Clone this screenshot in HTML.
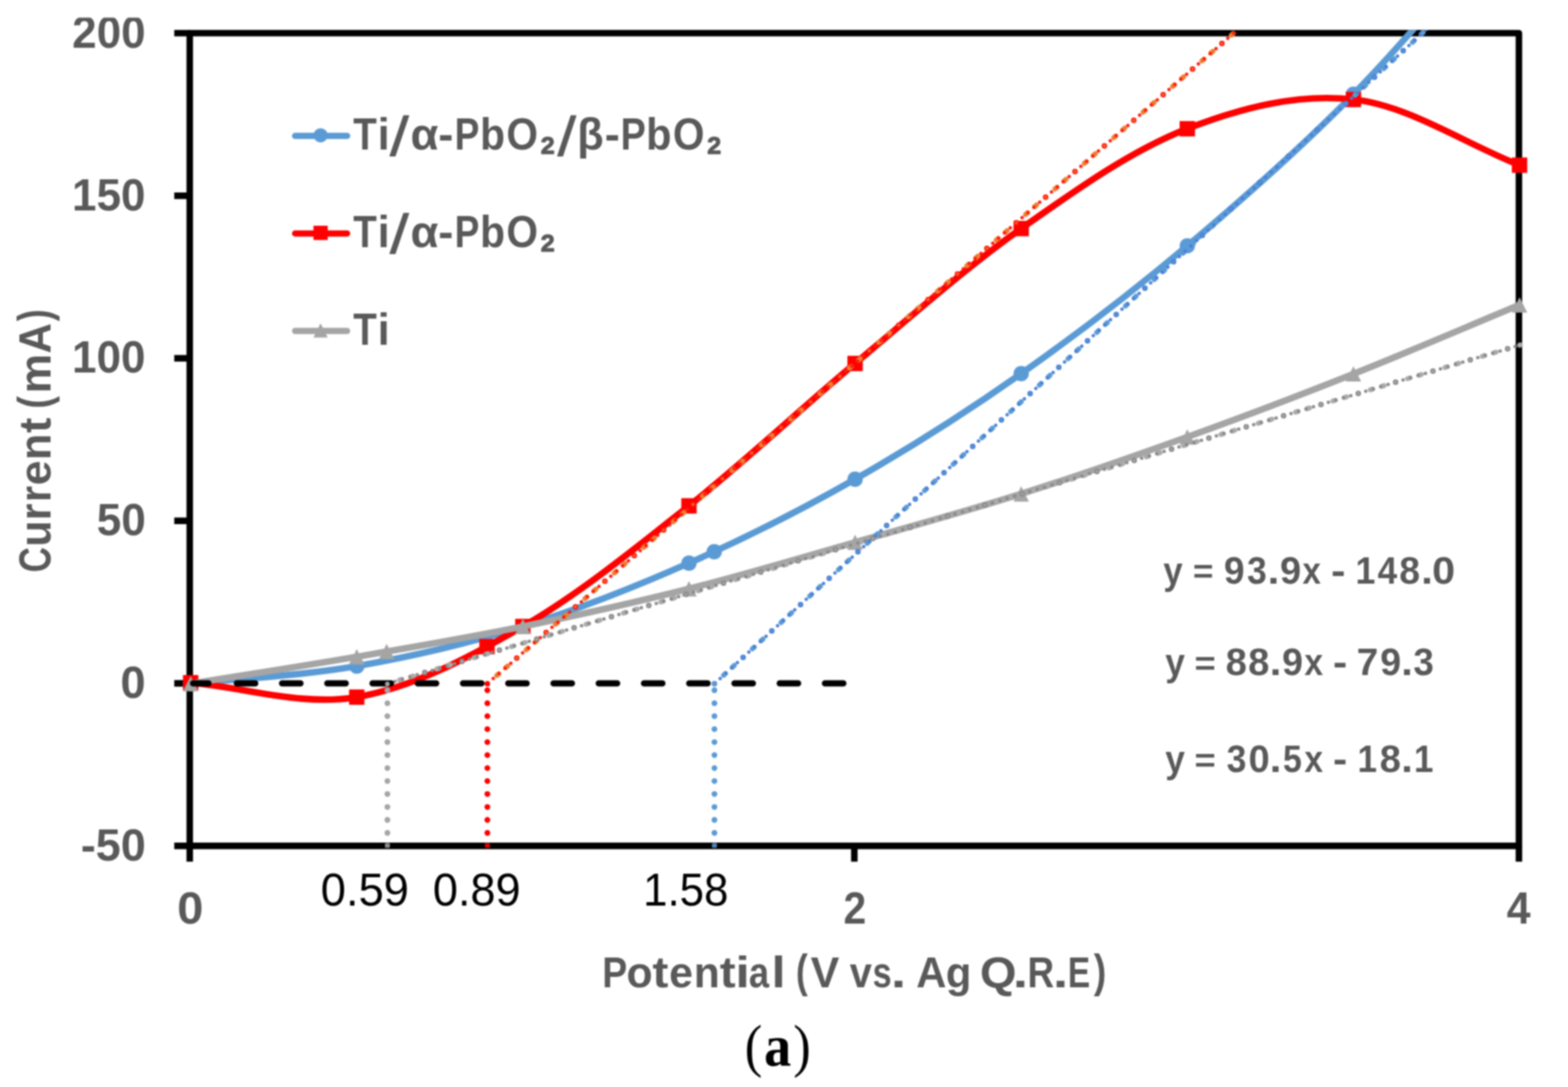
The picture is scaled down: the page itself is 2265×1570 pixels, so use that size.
<!DOCTYPE html>
<html lang="en"><head><meta charset="utf-8"><title>Polarization curves</title>
<style>html,body{margin:0;padding:0;background:#fff}body{width:2265px;height:1570px}svg{display:block;filter:blur(1px)}text{white-space:pre;font-kerning:none}</style></head>
<body>
<svg width="2265" height="1570" viewBox="0 0 2265 1570">
<defs><clipPath id="plot"><rect x="234.1" y="43.2" width="2000.0" height="1183.3"/></clipPath><clipPath id="topclip"><rect x="0" y="25.6" width="2265" height="1570"/></clipPath></defs>
<g>
<rect width="2265" height="1570" fill="#fff"/>
<g stroke="#000" stroke-width="9.4" fill="none" stroke-linejoin="round">
<rect x="274.1" y="47.9" width="1920.0" height="1173.8999999999999"/>
<path d="M251.7 47.90H274.1M251.7 282.68H274.1M251.7 517.46H274.1M251.7 752.24H274.1M251.7 987.02H274.1M251.7 1221.80H274.1M274.10 1221.8V1244.4M1234.10 1221.8V1244.4M2194.10 1221.8V1244.4"/>
</g>
<g clip-path="url(#plot)">
<path d="M275.40 987.50C355.38 979.05 435.37 975.92 515.35 962.14C595.33 948.37 675.32 929.67 755.30 904.86C835.28 880.05 915.27 848.75 995.25 813.29C1075.23 777.84 1155.22 737.77 1235.20 692.15C1315.18 646.52 1395.17 595.73 1475.15 539.54C1555.13 483.35 1635.12 422.23 1715.10 355.00C1795.08 287.78 1875.07 217.81 1955.05 136.19C2035.03 54.56 2115.02 -44.44 2195.00 -134.75" fill="none" stroke="#5B9BD5" stroke-width="9.4" stroke-linecap="round" stroke-linejoin="round"/>
<circle cx="275.40" cy="987.50" r="11.10" fill="#5B9BD5"/>
<circle cx="515.35" cy="962.14" r="11.10" fill="#5B9BD5"/>
<circle cx="755.30" cy="904.86" r="11.10" fill="#5B9BD5"/>
<circle cx="995.25" cy="813.29" r="11.10" fill="#5B9BD5"/>
<circle cx="1235.20" cy="692.15" r="11.10" fill="#5B9BD5"/>
<circle cx="1475.15" cy="539.54" r="11.10" fill="#5B9BD5"/>
<circle cx="1715.10" cy="355.00" r="11.10" fill="#5B9BD5"/>
<circle cx="1955.05" cy="136.19" r="11.10" fill="#5B9BD5"/>
<circle cx="1031.72" cy="796.86" r="11.10" fill="#5B9BD5"/>
</g>
<g clip-path="url(#plot)">
<path d="M275.40 986.09C355.38 993.03 435.37 1020.43 515.35 1006.89C595.33 993.35 675.32 950.90 755.30 904.86C835.28 858.82 915.27 793.96 995.25 730.65C1075.23 667.34 1155.22 591.74 1235.20 524.98C1315.18 458.23 1395.17 386.62 1475.15 330.12C1555.13 273.61 1635.12 217.03 1715.10 185.96C1795.08 154.89 1875.07 134.94 1955.05 143.70C2035.03 152.47 2115.02 206.93 2195.00 238.55" fill="none" stroke="#FF0000" stroke-width="9.4" stroke-linecap="round" stroke-linejoin="round"/>
<rect x="264.30" y="974.99" width="22.2" height="22.2" fill="#FF0000"/>
<rect x="504.25" y="995.79" width="22.2" height="22.2" fill="#FF0000"/>
<rect x="744.20" y="893.76" width="22.2" height="22.2" fill="#FF0000"/>
<rect x="984.15" y="719.55" width="22.2" height="22.2" fill="#FF0000"/>
<rect x="1224.10" y="513.88" width="22.2" height="22.2" fill="#FF0000"/>
<rect x="1464.05" y="319.02" width="22.2" height="22.2" fill="#FF0000"/>
<rect x="1704.00" y="174.86" width="22.2" height="22.2" fill="#FF0000"/>
<rect x="1943.95" y="132.60" width="22.2" height="22.2" fill="#FF0000"/>
<rect x="2183.90" y="227.45" width="22.2" height="22.2" fill="#FF0000"/>
<rect x="692.37" y="922.87" width="22.2" height="22.2" fill="#FF0000"/>
</g>
<g clip-path="url(#plot)">
<path d="M275.40 987.50C355.38 974.51 435.37 962.30 515.35 948.53C595.33 934.75 675.32 921.21 755.30 904.86C835.28 888.50 915.27 870.66 995.25 850.39C1075.23 830.12 1155.22 806.09 1235.20 783.24C1315.18 760.39 1395.17 738.63 1475.15 713.28C1555.13 687.92 1635.12 659.98 1715.10 631.10C1795.08 602.23 1875.07 571.78 1955.05 540.01C2035.03 508.24 2115.02 473.64 2195.00 440.46" fill="none" stroke="#A5A5A5" stroke-width="9.4" stroke-linecap="round" stroke-linejoin="round"/>
<path d="M275.40 976.40L286.50 998.60H264.30Z" fill="#A5A5A5"/>
<path d="M515.35 937.43L526.45 959.63H504.25Z" fill="#A5A5A5"/>
<path d="M755.30 893.76L766.40 915.96H744.20Z" fill="#A5A5A5"/>
<path d="M995.25 839.29L1006.35 861.49H984.15Z" fill="#A5A5A5"/>
<path d="M1235.20 772.14L1246.30 794.34H1224.10Z" fill="#A5A5A5"/>
<path d="M1475.15 702.18L1486.25 724.38H1464.05Z" fill="#A5A5A5"/>
<path d="M1715.10 620.00L1726.20 642.20H1704.00Z" fill="#A5A5A5"/>
<path d="M1955.05 528.91L1966.15 551.11H1943.95Z" fill="#A5A5A5"/>
<path d="M2195.00 429.36L2206.10 451.56H2183.90Z" fill="#A5A5A5"/>
<path d="M558.54 929.91L569.64 952.11H547.44Z" fill="#A5A5A5"/>
</g>
<g clip-path="url(#plot)" fill="none" stroke-linecap="round">
<path d="M1032.00 987.50L2061.17 41.90" stroke="#5B9BD5" stroke-width="7.2" stroke-dasharray="3.6 13.6 3.6 35.5" stroke-dashoffset="38.20"/>
<path d="M1032.00 987.50L2061.17 41.90" stroke="#4A7FD6" stroke-width="5.0" stroke-dasharray="0 11.26"/>
<path d="M1032.00 987.50L2061.17 41.90" stroke="#4A7FD6" stroke-width="8.0" stroke-dasharray="0 56.3"/>
<path d="M1032.00 987.50L2061.17 41.90" stroke="#5B9BD5" stroke-width="3.6" stroke-dasharray="0 56.3"/>
</g>
<g clip-path="url(#plot)" fill="none" stroke-linecap="round">
<path d="M704.00 987.50L1789.03 41.90" stroke="#ED7D31" stroke-width="7.2" stroke-dasharray="3.6 13.6 3.6 35.5" stroke-dashoffset="38.20"/>
<path d="M704.00 987.50L1789.03 41.90" stroke="#FF1A0A" stroke-width="5.0" stroke-dasharray="0 11.26"/>
<path d="M704.00 987.50L1789.03 41.90" stroke="#FF1A0A" stroke-width="8.0" stroke-dasharray="0 56.3"/>
<path d="M704.00 987.50L1789.03 41.90" stroke="#ED7D31" stroke-width="3.6" stroke-dasharray="0 56.3"/>
</g>
<g clip-path="url(#plot)" fill="none" stroke-linecap="round">
<path d="M559.60 987.50L2196.10 498.19" stroke="#ABABAB" stroke-width="7.2" stroke-dasharray="3.6 13.6 3.6 35.5" stroke-dashoffset="38.20"/>
<path d="M559.60 987.50L2196.10 498.19" stroke="#8A8A8A" stroke-width="5.0" stroke-dasharray="0 11.26"/>
<path d="M559.60 987.50L2196.10 498.19" stroke="#8A8A8A" stroke-width="8.0" stroke-dasharray="0 56.3"/>
<path d="M559.60 987.50L2196.10 498.19" stroke="#ABABAB" stroke-width="3.6" stroke-dasharray="0 56.3"/>
</g>
<path d="M279 987.0H301.1M342.2 987.0H1220" fill="none" stroke="#000" stroke-width="9.2" stroke-linecap="round" stroke-dasharray="26.4 38.95"/>
<path d="M559.60 1203.06V987.50" fill="none" stroke="#A5A5A5" stroke-width="8.4" stroke-linecap="round" stroke-dasharray="0 18.74"/>
<circle cx="559.60" cy="987.80" r="3.4" fill="#A5A5A5"/>
<rect x="556.00" y="1217.80" width="7.2" height="6.8" rx="1.5" fill="#A5A5A5" opacity="0.85"/>
<path d="M704.00 1203.06V987.50" fill="none" stroke="#FF0000" stroke-width="8.4" stroke-linecap="round" stroke-dasharray="0 18.74"/>
<circle cx="704.00" cy="987.80" r="3.4" fill="#FF0000"/>
<rect x="700.40" y="1217.80" width="7.2" height="6.8" rx="1.5" fill="#FF0000" opacity="0.85"/>
<path d="M1032.00 1203.06V987.50" fill="none" stroke="#5B9BD5" stroke-width="8.4" stroke-linecap="round" stroke-dasharray="0 18.74"/>
<circle cx="1032.00" cy="987.80" r="3.4" fill="#5B9BD5"/>
<rect x="1028.40" y="1217.80" width="7.2" height="6.8" rx="1.5" fill="#5B9BD5" opacity="0.85"/>
<path d="M426.3 196.30H501.4" stroke="#5B9BD5" stroke-width="9.0" stroke-linecap="round" fill="none"/>
<circle cx="463.10" cy="195.50" r="10.30" fill="#5B9BD5"/>
<path d="M426.3 337.15H501.4" stroke="#FF0000" stroke-width="9.0" stroke-linecap="round" fill="none"/>
<rect x="452.80" y="326.05" width="20.6" height="20.6" fill="#FF0000"/>
<path d="M426.3 478.00H501.4" stroke="#A5A5A5" stroke-width="9.0" stroke-linecap="round" fill="none"/>
<path d="M463.10 466.90L473.40 487.50H452.80Z" fill="#A5A5A5"/>
<text font-family='"Liberation Sans", sans-serif' font-weight="bold" font-size="64.6" fill="#595959"><tspan x="510.17" y="216.00" textLength="34.02" lengthAdjust="spacingAndGlyphs">T</tspan><tspan x="545.42" y="216.00" textLength="17.41" lengthAdjust="spacingAndGlyphs">i</tspan><tspan x="563.10" y="225.00" textLength="27.70" lengthAdjust="spacingAndGlyphs" font-size="80.5" font-weight="normal" stroke="#595959" stroke-width="0.8" stroke-linejoin="round">/</tspan><tspan x="592.94" y="216.00" textLength="40.34" lengthAdjust="spacingAndGlyphs">α</tspan><tspan x="633.13" y="216.00" textLength="21.90" lengthAdjust="spacingAndGlyphs">-</tspan><tspan x="656.82" y="216.00" textLength="35.71" lengthAdjust="spacingAndGlyphs">P</tspan><tspan x="693.61" y="216.00" textLength="36.00" lengthAdjust="spacingAndGlyphs">b</tspan><tspan x="731.59" y="216.00" textLength="45.67" lengthAdjust="spacingAndGlyphs">O</tspan><tspan x="779.41" y="220.20" textLength="23.11" lengthAdjust="spacingAndGlyphs" font-size="70" stroke="#595959" stroke-width="1.6" stroke-linejoin="round">₂</tspan><tspan x="805.30" y="225.00" textLength="27.00" lengthAdjust="spacingAndGlyphs" font-size="80.5" font-weight="normal" stroke="#595959" stroke-width="0.8" stroke-linejoin="round">/</tspan><tspan x="833.65" y="216.00" textLength="38.26" lengthAdjust="spacingAndGlyphs">β</tspan><tspan x="873.43" y="216.00" textLength="21.90" lengthAdjust="spacingAndGlyphs">-</tspan><tspan x="896.45" y="216.00" textLength="36.42" lengthAdjust="spacingAndGlyphs">P</tspan><tspan x="933.24" y="216.00" textLength="36.73" lengthAdjust="spacingAndGlyphs">b</tspan><tspan x="971.89" y="216.00" textLength="45.67" lengthAdjust="spacingAndGlyphs">O</tspan><tspan x="1019.91" y="220.20" textLength="23.11" lengthAdjust="spacingAndGlyphs" font-size="70" stroke="#595959" stroke-width="1.6" stroke-linejoin="round">₂</tspan></text>
<text font-family='"Liberation Sans", sans-serif' font-weight="bold" font-size="64.6" fill="#595959"><tspan x="510.17" y="356.70" textLength="34.02" lengthAdjust="spacingAndGlyphs">T</tspan><tspan x="545.42" y="356.70" textLength="17.41" lengthAdjust="spacingAndGlyphs">i</tspan><tspan x="563.10" y="365.70" textLength="27.70" lengthAdjust="spacingAndGlyphs" font-size="80.5" font-weight="normal" stroke="#595959" stroke-width="0.8" stroke-linejoin="round">/</tspan><tspan x="592.94" y="356.70" textLength="40.34" lengthAdjust="spacingAndGlyphs">α</tspan><tspan x="633.13" y="356.70" textLength="21.90" lengthAdjust="spacingAndGlyphs">-</tspan><tspan x="656.82" y="356.70" textLength="35.71" lengthAdjust="spacingAndGlyphs">P</tspan><tspan x="693.61" y="356.70" textLength="36.00" lengthAdjust="spacingAndGlyphs">b</tspan><tspan x="731.59" y="356.70" textLength="45.67" lengthAdjust="spacingAndGlyphs">O</tspan><tspan x="779.41" y="360.90" textLength="23.11" lengthAdjust="spacingAndGlyphs" font-size="70" stroke="#595959" stroke-width="1.6" stroke-linejoin="round">₂</tspan></text>
<text font-family='"Liberation Sans", sans-serif' font-weight="bold" font-size="64.6" fill="#595959"><tspan x="510.17" y="497.60" textLength="34.02" lengthAdjust="spacingAndGlyphs">T</tspan><tspan x="545.42" y="497.60" textLength="17.41" lengthAdjust="spacingAndGlyphs">i</tspan></text>
<text font-family='"Liberation Sans", sans-serif' font-weight="bold" font-size="55.5" fill="#595959"><tspan x="1680.41" y="842.70" textLength="27.86" lengthAdjust="spacingAndGlyphs">y</tspan><tspan> </tspan><tspan x="1723.20" y="842.20" textLength="29.58" lengthAdjust="spacingAndGlyphs" font-size="48">=</tspan><tspan> </tspan><tspan x="1767.94" y="842.70" textLength="29.85" lengthAdjust="spacingAndGlyphs">9</tspan><tspan x="1801.43" y="842.70" textLength="28.31" lengthAdjust="spacingAndGlyphs">3</tspan><tspan x="1831.12" y="842.70" textLength="17.13" lengthAdjust="spacingAndGlyphs">.</tspan><tspan x="1848.90" y="842.70" textLength="30.54" lengthAdjust="spacingAndGlyphs">9</tspan><tspan x="1881.47" y="842.70" textLength="26.47" lengthAdjust="spacingAndGlyphs">x</tspan><tspan> </tspan><tspan x="1922.65" y="842.70" textLength="20.85" lengthAdjust="spacingAndGlyphs">-</tspan><tspan> </tspan><tspan x="1957.94" y="842.70" textLength="28.80" lengthAdjust="spacingAndGlyphs">1</tspan><tspan x="1990.03" y="842.70" textLength="28.24" lengthAdjust="spacingAndGlyphs">4</tspan><tspan x="2021.29" y="842.70" textLength="29.97" lengthAdjust="spacingAndGlyphs">8</tspan><tspan x="2052.82" y="842.70" textLength="17.13" lengthAdjust="spacingAndGlyphs">.</tspan><tspan x="2068.84" y="842.70" textLength="33.21" lengthAdjust="spacingAndGlyphs">0</tspan></text>
<text font-family='"Liberation Sans", sans-serif' font-weight="bold" font-size="55.5" fill="#595959"><tspan x="1683.30" y="975.00" textLength="28.37" lengthAdjust="spacingAndGlyphs">y</tspan><tspan> </tspan><tspan x="1725.62" y="974.50" textLength="30.63" lengthAdjust="spacingAndGlyphs" font-size="48">=</tspan><tspan> </tspan><tspan x="1770.55" y="975.00" textLength="30.64" lengthAdjust="spacingAndGlyphs">8</tspan><tspan x="1802.95" y="975.00" textLength="30.64" lengthAdjust="spacingAndGlyphs">8</tspan><tspan x="1833.92" y="975.00" textLength="17.13" lengthAdjust="spacingAndGlyphs">.</tspan><tspan x="1852.02" y="975.00" textLength="30.20" lengthAdjust="spacingAndGlyphs">9</tspan><tspan x="1884.17" y="975.00" textLength="26.88" lengthAdjust="spacingAndGlyphs">x</tspan><tspan> </tspan><tspan x="1925.58" y="975.00" textLength="20.59" lengthAdjust="spacingAndGlyphs">-</tspan><tspan> </tspan><tspan x="1959.89" y="975.00" textLength="31.17" lengthAdjust="spacingAndGlyphs">7</tspan><tspan x="1993.82" y="975.00" textLength="30.20" lengthAdjust="spacingAndGlyphs">9</tspan><tspan x="2024.06" y="975.00" textLength="16.93" lengthAdjust="spacingAndGlyphs">.</tspan><tspan x="2041.79" y="975.00" textLength="29.43" lengthAdjust="spacingAndGlyphs">3</tspan></text>
<text font-family='"Liberation Sans", sans-serif' font-weight="bold" font-size="55.5" fill="#595959"><tspan x="1683.30" y="1115.00" textLength="28.37" lengthAdjust="spacingAndGlyphs">y</tspan><tspan> </tspan><tspan x="1725.62" y="1114.50" textLength="30.63" lengthAdjust="spacingAndGlyphs" font-size="48">=</tspan><tspan> </tspan><tspan x="1772.03" y="1115.00" textLength="28.42" lengthAdjust="spacingAndGlyphs">3</tspan><tspan x="1803.52" y="1115.00" textLength="30.64" lengthAdjust="spacingAndGlyphs">0</tspan><tspan x="1833.92" y="1115.00" textLength="17.13" lengthAdjust="spacingAndGlyphs">.</tspan><tspan x="1853.29" y="1115.00" textLength="27.27" lengthAdjust="spacingAndGlyphs">5</tspan><tspan x="1884.17" y="1115.00" textLength="26.88" lengthAdjust="spacingAndGlyphs">x</tspan><tspan> </tspan><tspan x="1925.58" y="1115.00" textLength="20.59" lengthAdjust="spacingAndGlyphs">-</tspan><tspan> </tspan><tspan x="1961.02" y="1115.00" textLength="28.09" lengthAdjust="spacingAndGlyphs">1</tspan><tspan x="1993.05" y="1115.00" textLength="30.64" lengthAdjust="spacingAndGlyphs">8</tspan><tspan x="2024.06" y="1115.00" textLength="16.93" lengthAdjust="spacingAndGlyphs">.</tspan><tspan x="2042.62" y="1115.00" textLength="28.09" lengthAdjust="spacingAndGlyphs">1</tspan></text>
<text font-family='"Liberation Sans", sans-serif' font-weight="bold" font-size="63.6" fill="#595959"><tspan x="870.09" y="1425.90" textLength="35.95" lengthAdjust="spacingAndGlyphs">P</tspan><tspan x="904.89" y="1425.90" textLength="37.72" lengthAdjust="spacingAndGlyphs">o</tspan><tspan x="942.46" y="1425.90" textLength="22.99" lengthAdjust="spacingAndGlyphs">t</tspan><tspan x="966.57" y="1425.90" textLength="34.55" lengthAdjust="spacingAndGlyphs">e</tspan><tspan x="1002.26" y="1425.90" textLength="37.44" lengthAdjust="spacingAndGlyphs">n</tspan><tspan x="1039.86" y="1425.90" textLength="22.88" lengthAdjust="spacingAndGlyphs">t</tspan><tspan x="1062.26" y="1425.90" textLength="20.86" lengthAdjust="spacingAndGlyphs">i</tspan><tspan x="1081.86" y="1425.90" textLength="29.21" lengthAdjust="spacingAndGlyphs">a</tspan><tspan x="1114.41" y="1425.90" textLength="20.25" lengthAdjust="spacingAndGlyphs">l</tspan><tspan> </tspan><tspan x="1149.64" y="1425.00" textLength="17.11" lengthAdjust="spacingAndGlyphs" font-size="67.5">(</tspan><tspan x="1171.08" y="1425.90" textLength="41.35" lengthAdjust="spacingAndGlyphs">V</tspan><tspan> </tspan><tspan x="1227.48" y="1425.90" textLength="31.88" lengthAdjust="spacingAndGlyphs">v</tspan><tspan x="1260.46" y="1425.90" textLength="27.46" lengthAdjust="spacingAndGlyphs">s</tspan><tspan x="1287.06" y="1425.90" textLength="21.85" lengthAdjust="spacingAndGlyphs">.</tspan><tspan> </tspan><tspan x="1323.60" y="1425.90" textLength="43.59" lengthAdjust="spacingAndGlyphs">A</tspan><tspan x="1366.22" y="1425.90" textLength="36.92" lengthAdjust="spacingAndGlyphs">g</tspan><tspan> </tspan><tspan x="1415.41" y="1425.90" textLength="52.84" lengthAdjust="spacingAndGlyphs">Q</tspan><tspan x="1463.11" y="1425.90" textLength="22.05" lengthAdjust="spacingAndGlyphs">.</tspan><tspan x="1484.24" y="1425.90" textLength="38.45" lengthAdjust="spacingAndGlyphs">R</tspan><tspan x="1521.01" y="1425.90" textLength="22.05" lengthAdjust="spacingAndGlyphs">.</tspan><tspan x="1542.47" y="1425.90" textLength="32.22" lengthAdjust="spacingAndGlyphs">E</tspan><tspan x="1580.05" y="1425.00" textLength="18.05" lengthAdjust="spacingAndGlyphs" font-size="67.5">)</tspan></text>
<text transform="translate(72.90 0) rotate(-90)" font-family='"Liberation Sans", sans-serif' font-weight="bold" font-size="64.5" fill="#595959"><tspan x="-826.68" y="0.00" textLength="36.67" lengthAdjust="spacingAndGlyphs">C</tspan><tspan x="-789.54" y="0.00" textLength="37.82" lengthAdjust="spacingAndGlyphs">u</tspan><tspan x="-751.59" y="0.00" textLength="24.12" lengthAdjust="spacingAndGlyphs">r</tspan><tspan x="-725.36" y="0.00" textLength="23.37" lengthAdjust="spacingAndGlyphs">r</tspan><tspan x="-701.03" y="0.00" textLength="36.05" lengthAdjust="spacingAndGlyphs">e</tspan><tspan x="-664.42" y="0.00" textLength="38.20" lengthAdjust="spacingAndGlyphs">n</tspan><tspan x="-625.21" y="0.00" textLength="22.01" lengthAdjust="spacingAndGlyphs">t</tspan><tspan> </tspan><tspan x="-590.22" y="-0.90" textLength="18.17" lengthAdjust="spacingAndGlyphs" font-size="67.5">(</tspan><tspan x="-568.15" y="0.00" textLength="57.35" lengthAdjust="spacingAndGlyphs">m</tspan><tspan x="-510.61" y="0.00" textLength="43.92" lengthAdjust="spacingAndGlyphs">A</tspan><tspan x="-463.95" y="-0.90" textLength="17.34" lengthAdjust="spacingAndGlyphs" font-size="67.5">)</tspan></text>
<text font-family='"Liberation Serif", serif' font-weight="normal" font-size="85.5" fill="#000"><tspan x="1075.66" y="1538.60" textLength="25.28" lengthAdjust="spacingAndGlyphs">(</tspan><tspan x="1103.68" y="1539.00" textLength="39.10" lengthAdjust="spacingAndGlyphs" font-size="85" font-weight="bold">a</tspan><tspan x="1146.07" y="1538.60" textLength="25.15" lengthAdjust="spacingAndGlyphs">)</tspan></text>
<g clip-path="url(#topclip)"><text transform="translate(104.37 68.90) scale(0.9667 1)" font-family='"Liberation Sans", sans-serif' font-weight="bold" font-size="65.6" fill="#595959">200</text></g>
<text transform="translate(104.12 303.68) scale(0.9689 1)" font-family='"Liberation Sans", sans-serif' font-weight="bold" font-size="65.6" fill="#595959">150</text>
<text transform="translate(104.02 538.46) scale(0.9699 1)" font-family='"Liberation Sans", sans-serif' font-weight="bold" font-size="65.6" fill="#595959">100</text>
<text transform="translate(139.86 773.24) scale(0.9706 1)" font-family='"Liberation Sans", sans-serif' font-weight="bold" font-size="65.6" fill="#595959">50</text>
<text transform="translate(173.91 1008.02) scale(0.9968 1)" font-family='"Liberation Sans", sans-serif' font-weight="bold" font-size="65.6" fill="#595959">0</text>
<text transform="translate(116.63 1242.80) scale(0.9910 1)" font-family='"Liberation Sans", sans-serif' font-weight="bold" font-size="65.6" fill="#595959">-50</text>
<text transform="translate(255.99 1334.00) scale(1.0355 1)" font-family='"Liberation Sans", sans-serif' font-weight="bold" font-size="65.6" fill="#595959">0</text>
<text transform="translate(1218.61 1334.00) scale(0.8969 1)" font-family='"Liberation Sans", sans-serif' font-weight="bold" font-size="65.6" fill="#595959">2</text>
<text transform="translate(2176.56 1334.00) scale(0.9429 1)" font-family='"Liberation Sans", sans-serif' font-weight="bold" font-size="65.6" fill="#595959">4</text>
<text transform="translate(463.32 1307.80) scale(0.9918 1)" font-family='"Liberation Sans", sans-serif' font-weight="normal" font-size="66.0" fill="#000">0.59</text>
<text transform="translate(625.13 1307.80) scale(0.9893 1)" font-family='"Liberation Sans", sans-serif' font-weight="normal" font-size="66.0" fill="#000">0.89</text>
<text transform="translate(929.01 1307.80) scale(0.9587 1)" font-family='"Liberation Sans", sans-serif' font-weight="normal" font-size="66.0" fill="#000">1.58</text>
</g>
</svg>
</body></html>
